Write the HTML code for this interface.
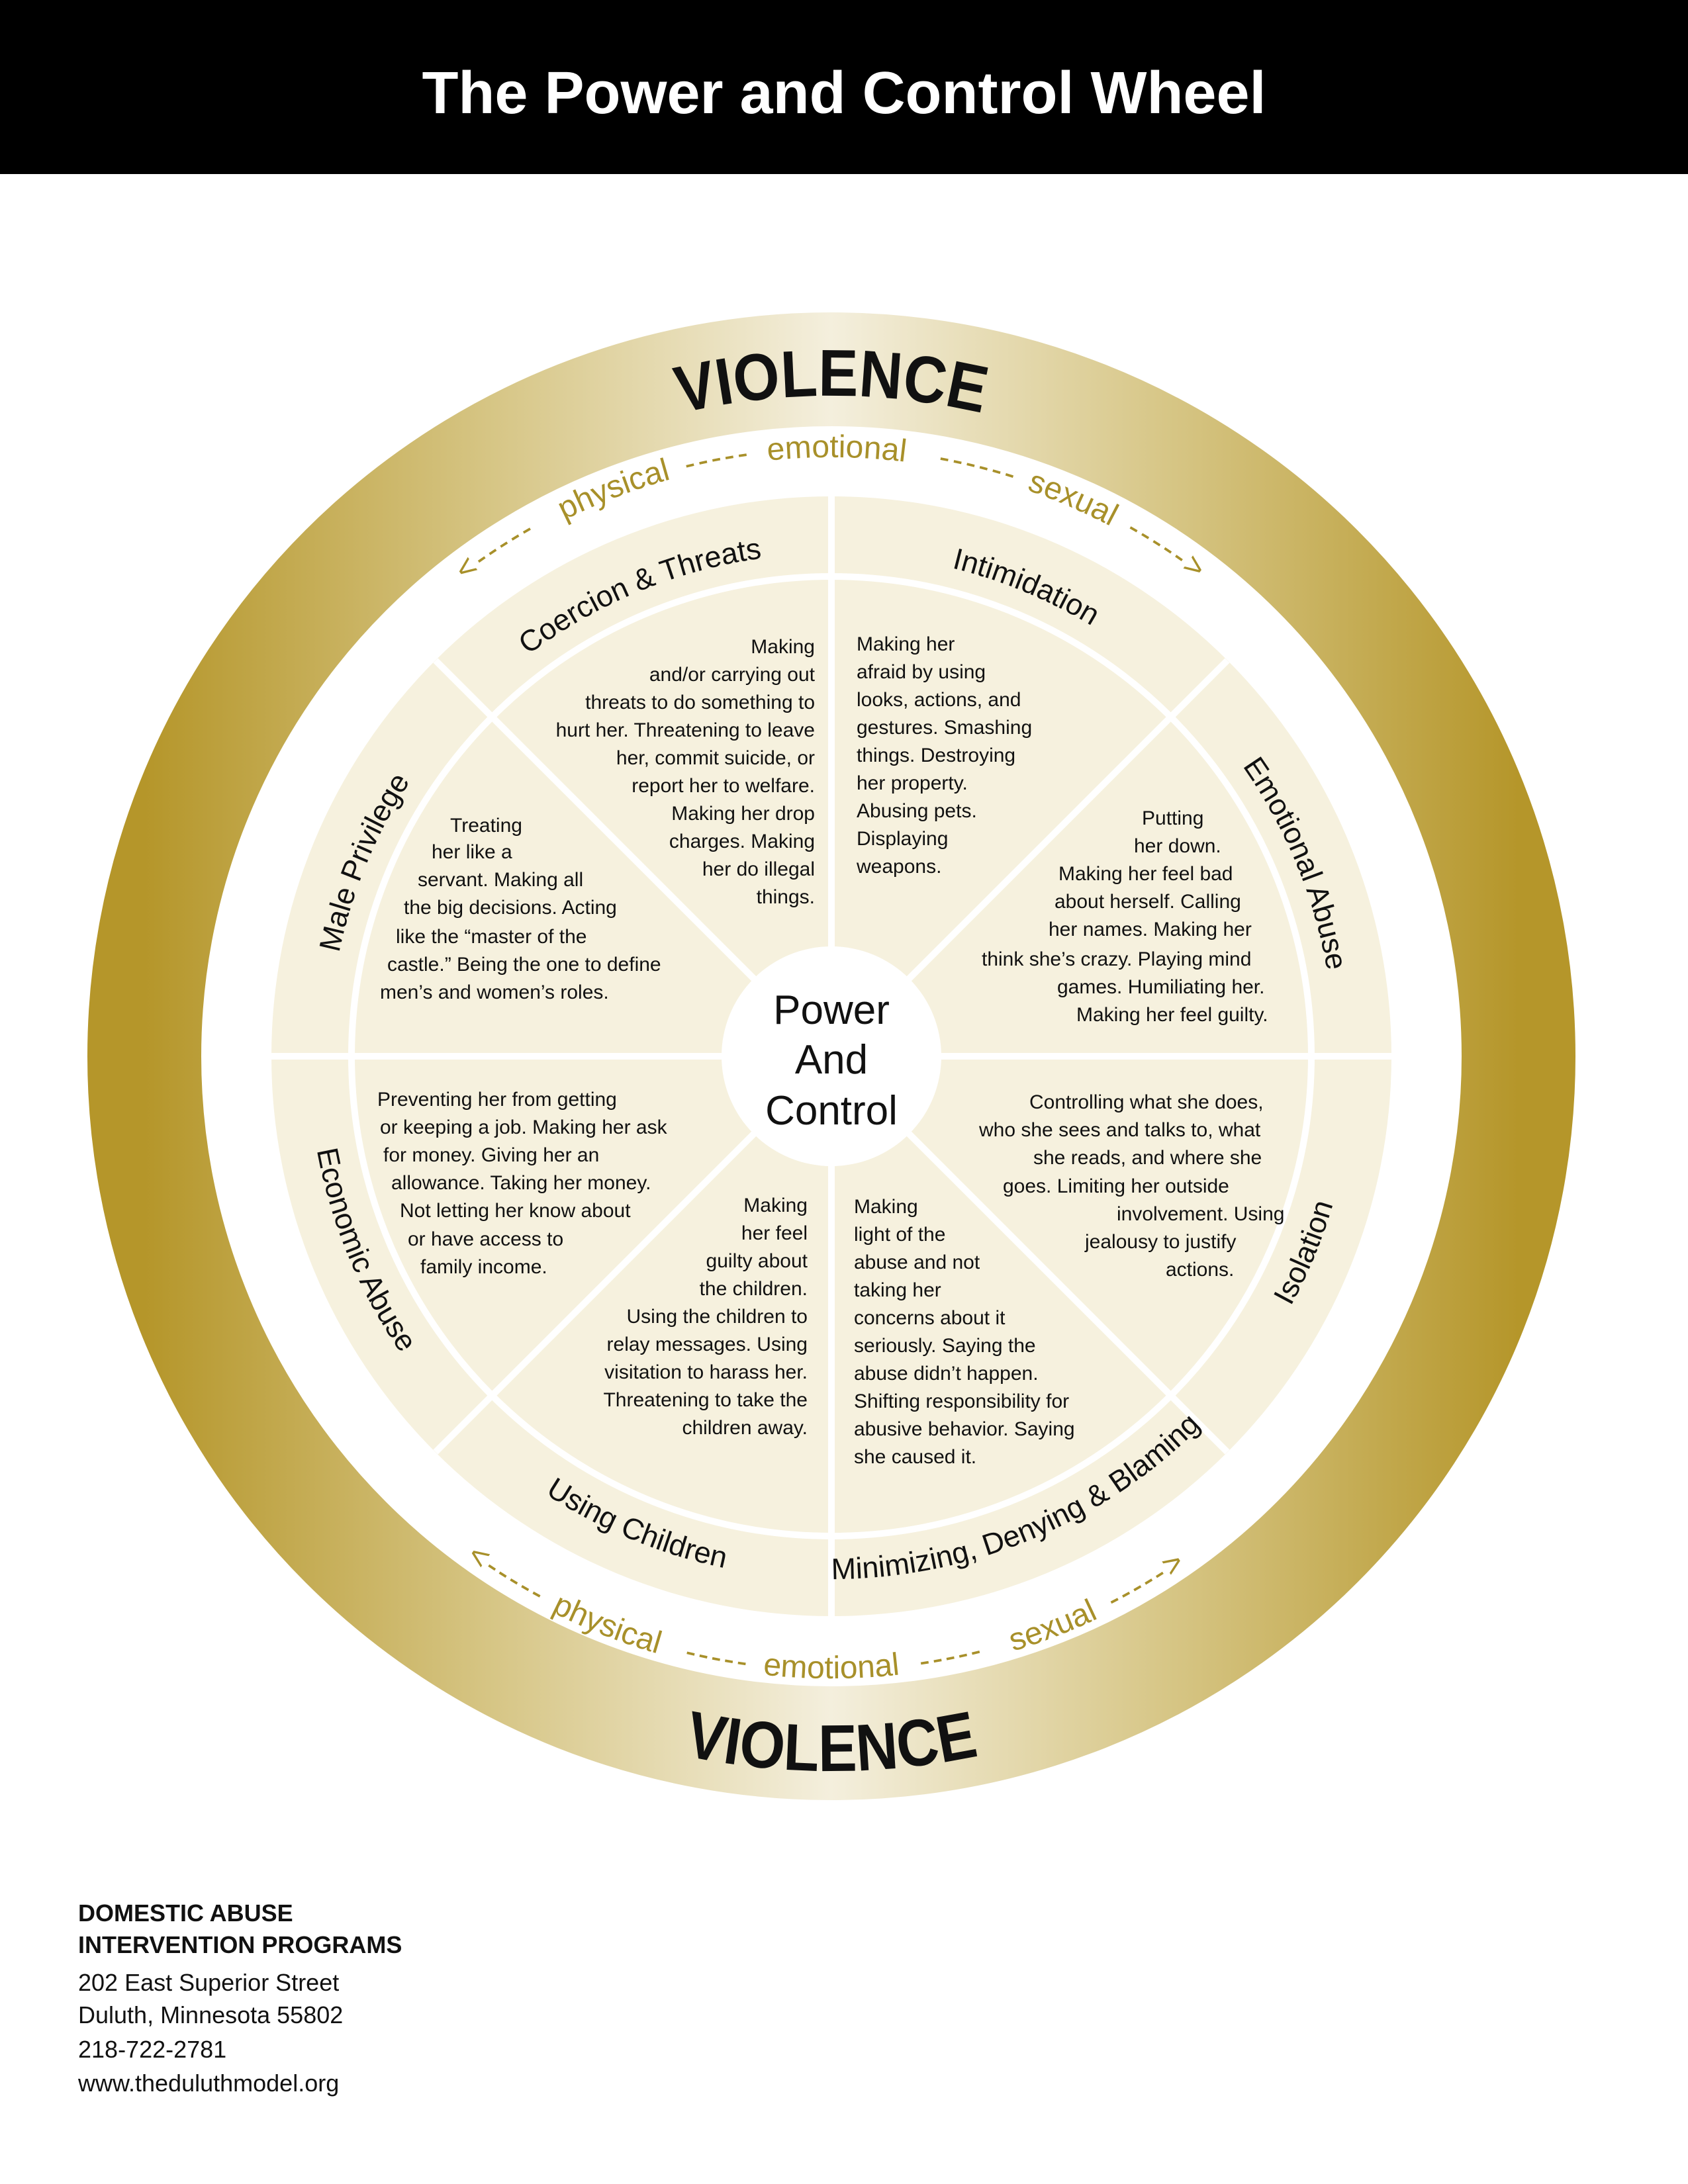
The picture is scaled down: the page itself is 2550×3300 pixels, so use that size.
<!DOCTYPE html>
<html><head><meta charset="utf-8"><style>
body{margin:0;width:2550px;height:3300px;position:relative;background:#fff;font-family:"Liberation Sans",sans-serif;overflow:hidden}
.hdr{position:absolute;left:0;top:0;width:2550px;height:263px;background:#000;color:#fff;font-weight:bold;font-size:90px;text-align:center;line-height:283px}
svg{position:absolute;left:0;top:0}
.t{position:absolute;font-size:30px;line-height:42px;color:#111;white-space:nowrap}
.r{text-align:right}
.ft{position:absolute;left:118px;font-size:36px;color:#111;white-space:nowrap}
</style></head><body>
<div class="hdr">The Power and Control Wheel</div>
<svg width="2550" height="3300" viewBox="0 0 2550 3300">
<defs>
<linearGradient id="g" x1="0" y1="0" x2="1" y2="0">
<stop offset="0" stop-color="#b5962a"/><stop offset="0.25" stop-color="#d6c584"/><stop offset="0.5" stop-color="#f4efdd"/><stop offset="0.75" stop-color="#d6c584"/><stop offset="1" stop-color="#b5962a"/>
</linearGradient>
<path id="pt" d="M767.5,1013.8 A760,760 0 0 1 1744.5,1013.8"/>
<path id="pb" d="M748.2,2201.2 A790,790 0 0 0 1763.8,2201.2"/>
<path id="vt" d="M614.5,831.5 A998,998 0 0 1 1897.5,831.5"/>
<path id="vb" d="M561.8,2423.3 A1080,1080 0 0 0 1950.2,2423.3"/>
<path id="et" d="M472.2,1143.5 A905,905 0 0 1 2039.8,1143.5"/>
<path id="eb" d="M441.9,2066 A940,940 0 0 0 2070.1,2066"/>
</defs>
<circle cx="1256" cy="1596" r="1038" fill="none" stroke="url(#g)" stroke-width="172"/>
<circle cx="1256" cy="1596" r="846" fill="#f6f1de"/>
<circle cx="1256" cy="1596" r="725" fill="none" stroke="#fff" stroke-width="10"/>
<g stroke="#fff" stroke-width="10">
<line x1="1256" y1="750" x2="1256" y2="2442"/>
<line x1="410" y1="1596" x2="2102" y2="1596"/>
<line x1="658" y1="998" x2="1854" y2="2194"/>
<line x1="1854" y1="998" x2="658" y2="2194"/>
</g>
<circle cx="1256" cy="1596" r="166" fill="#fff"/>
<g font-family="Liberation Sans, sans-serif" font-size="100" font-weight="bold" fill="#111" text-anchor="middle">
<text><textPath href="#vt" startOffset="50%" textLength="460" lengthAdjust="spacingAndGlyphs">VIOLENCE</textPath></text>
<text><textPath href="#vb" startOffset="50%" textLength="450" lengthAdjust="spacingAndGlyphs">VIOLENCE</textPath></text>
</g>
<g font-family="Liberation Sans, sans-serif" font-size="48" fill="#a8902a" text-anchor="middle">
<text transform="rotate(-33.5 1256 1596)"><textPath href="#et" startOffset="50%" letter-spacing="4">&lt;-----</textPath></text>
<text transform="rotate(-21 1256 1596)"><textPath href="#et" startOffset="50%">physical</textPath></text>
<text transform="rotate(-10.8 1256 1596)"><textPath href="#et" startOffset="50%" letter-spacing="4">-----</textPath></text>
<text transform="rotate(0.5 1256 1596)"><textPath href="#et" startOffset="50%">emotional</textPath></text>
<text transform="rotate(14 1256 1596)"><textPath href="#et" startOffset="50%" letter-spacing="4">------</textPath></text>
<text transform="rotate(23.4 1256 1596)"><textPath href="#et" startOffset="50%">sexual</textPath></text>
<text transform="rotate(33.5 1256 1596)"><textPath href="#et" startOffset="50%" letter-spacing="4">-----&gt;</textPath></text>
<text transform="rotate(32 1256 1596)"><textPath href="#eb" startOffset="50%" letter-spacing="4">&lt;-----</textPath></text>
<text transform="rotate(21.5 1256 1596)"><textPath href="#eb" startOffset="50%">physical</textPath></text>
<text transform="rotate(10.7 1256 1596)"><textPath href="#eb" startOffset="50%" letter-spacing="4">-----</textPath></text>
<text><textPath href="#eb" startOffset="50%">emotional</textPath></text>
<text transform="rotate(-11.3 1256 1596)"><textPath href="#eb" startOffset="50%" letter-spacing="4">-----</textPath></text>
<text transform="rotate(-21.2 1256 1596)"><textPath href="#eb" startOffset="50%">sexual</textPath></text>
<text transform="rotate(-31 1256 1596)"><textPath href="#eb" startOffset="50%" letter-spacing="4">-----&gt;</textPath></text>
</g>
<g font-family="Liberation Sans, sans-serif" font-size="45" fill="#111" text-anchor="middle">
<text transform="rotate(-22.5 1256 1596)"><textPath href="#pt" startOffset="50%">Coercion &amp; Threats</textPath></text>
<text transform="rotate(22.5 1256 1596)"><textPath href="#pt" startOffset="50%">Intimidation</textPath></text>
<text transform="rotate(67.5 1256 1596)"><textPath href="#pt" startOffset="50%">Emotional Abuse</textPath></text>
<text transform="rotate(-67.5 1256 1596)"><textPath href="#pt" startOffset="50%">Male Privilege</textPath></text>
<text transform="rotate(-67.5 1256 1596)"><textPath href="#pb" startOffset="50%">Isolation</textPath></text>
<text transform="rotate(-22.5 1256 1596)"><textPath href="#pb" startOffset="50%">Minimizing, Denying &amp; Blaming</textPath></text>
<text transform="rotate(22.5 1256 1596)"><textPath href="#pb" startOffset="50%">Using Children</textPath></text>
<text transform="rotate(67.5 1256 1596)"><textPath href="#pb" startOffset="50%">Economic Abuse</textPath></text>
</g>
<g font-family="Liberation Sans, sans-serif" font-size="62" fill="#111" text-anchor="middle">
<text x="1256" y="1547">Power</text>
<text x="1256" y="1622">And</text>
<text x="1256" y="1699">Control</text>
</g>
</svg>

<div class="t r" style="right:1319px;top:957px">Making<br>and/or carrying out<br>threats to do something to<br>hurt her. Threatening to leave<br>her, commit suicide, or<br>report her to welfare.<br>Making her drop<br>charges. Making<br>her do illegal<br>things.</div>
<div class="t" style="left:1294px;top:953px">Making her<br>afraid by using<br>looks, actions, and<br>gestures. Smashing<br>things. Destroying<br>her property.<br>Abusing pets.<br>Displaying<br>weapons.</div>
<div class="t r" style="right:1330px;top:1801px">Making<br>her feel<br>guilty about<br>the children.<br>Using the children to<br>relay messages. Using<br>visitation to harass her.<br>Threatening to take the<br>children away.</div>
<div class="t" style="left:1290px;top:1803px">Making<br>light of the<br>abuse and not<br>taking her<br>concerns about it<br>seriously. Saying the<br>abuse didn’t happen.<br>Shifting responsibility for<br>abusive behavior. Saying<br>she caused it.</div>

<div class="t" style="left:1725px;top:1216px">Putting</div>
<div class="t" style="left:1713px;top:1258px">her down.</div>
<div class="t" style="left:1599px;top:1300px">Making her feel bad</div>
<div class="t" style="left:1593px;top:1342px">about herself. Calling</div>
<div class="t" style="left:1584px;top:1384px">her names. Making her</div>
<div class="t" style="left:1483px;top:1429px">think she’s crazy. Playing mind</div>
<div class="t" style="left:1597px;top:1471px">games. Humiliating her.</div>
<div class="t" style="left:1626px;top:1513px">Making her feel guilty.</div>

<div class="t" style="left:680px;top:1227px">Treating</div>
<div class="t" style="left:652px;top:1267px">her like a</div>
<div class="t" style="left:631px;top:1309px">servant. Making all</div>
<div class="t" style="left:610px;top:1351px">the big decisions. Acting</div>
<div class="t" style="left:598px;top:1395px">like the “master of the</div>
<div class="t" style="left:585px;top:1437px">castle.” Being the one to define</div>
<div class="t" style="left:574px;top:1479px">men’s and women’s roles.</div>

<div class="t" style="left:570px;top:1641px">Preventing her from getting</div>
<div class="t" style="left:574px;top:1683px">or keeping a job. Making her ask</div>
<div class="t" style="left:579px;top:1725px">for money. Giving her an</div>
<div class="t" style="left:591px;top:1767px">allowance. Taking her money.</div>
<div class="t" style="left:604px;top:1809px">Not letting her know about</div>
<div class="t" style="left:616px;top:1852px">or have access to</div>
<div class="t" style="left:635px;top:1894px">family income.</div>

<div class="t" style="left:1555px;top:1645px">Controlling what she does,</div>
<div class="t" style="left:1479px;top:1687px">who she sees and talks to, what</div>
<div class="t" style="left:1561px;top:1729px">she reads, and where she</div>
<div class="t" style="left:1515px;top:1772px">goes. Limiting her outside</div>
<div class="t" style="left:1687px;top:1814px">involvement. Using</div>
<div class="t" style="left:1639px;top:1856px">jealousy to justify</div>
<div class="t" style="left:1761px;top:1898px">actions.</div>

<div class="ft" style="top:2870px;font-weight:bold">DOMESTIC ABUSE</div>
<div class="ft" style="top:2918px;font-weight:bold">INTERVENTION PROGRAMS</div>
<div class="ft" style="top:2975px">202 East Superior Street</div>
<div class="ft" style="top:3024px">Duluth, Minnesota 55802</div>
<div class="ft" style="top:3076px">218-722-2781</div>
<div class="ft" style="top:3127px">www.theduluthmodel.org</div>
</body></html>
